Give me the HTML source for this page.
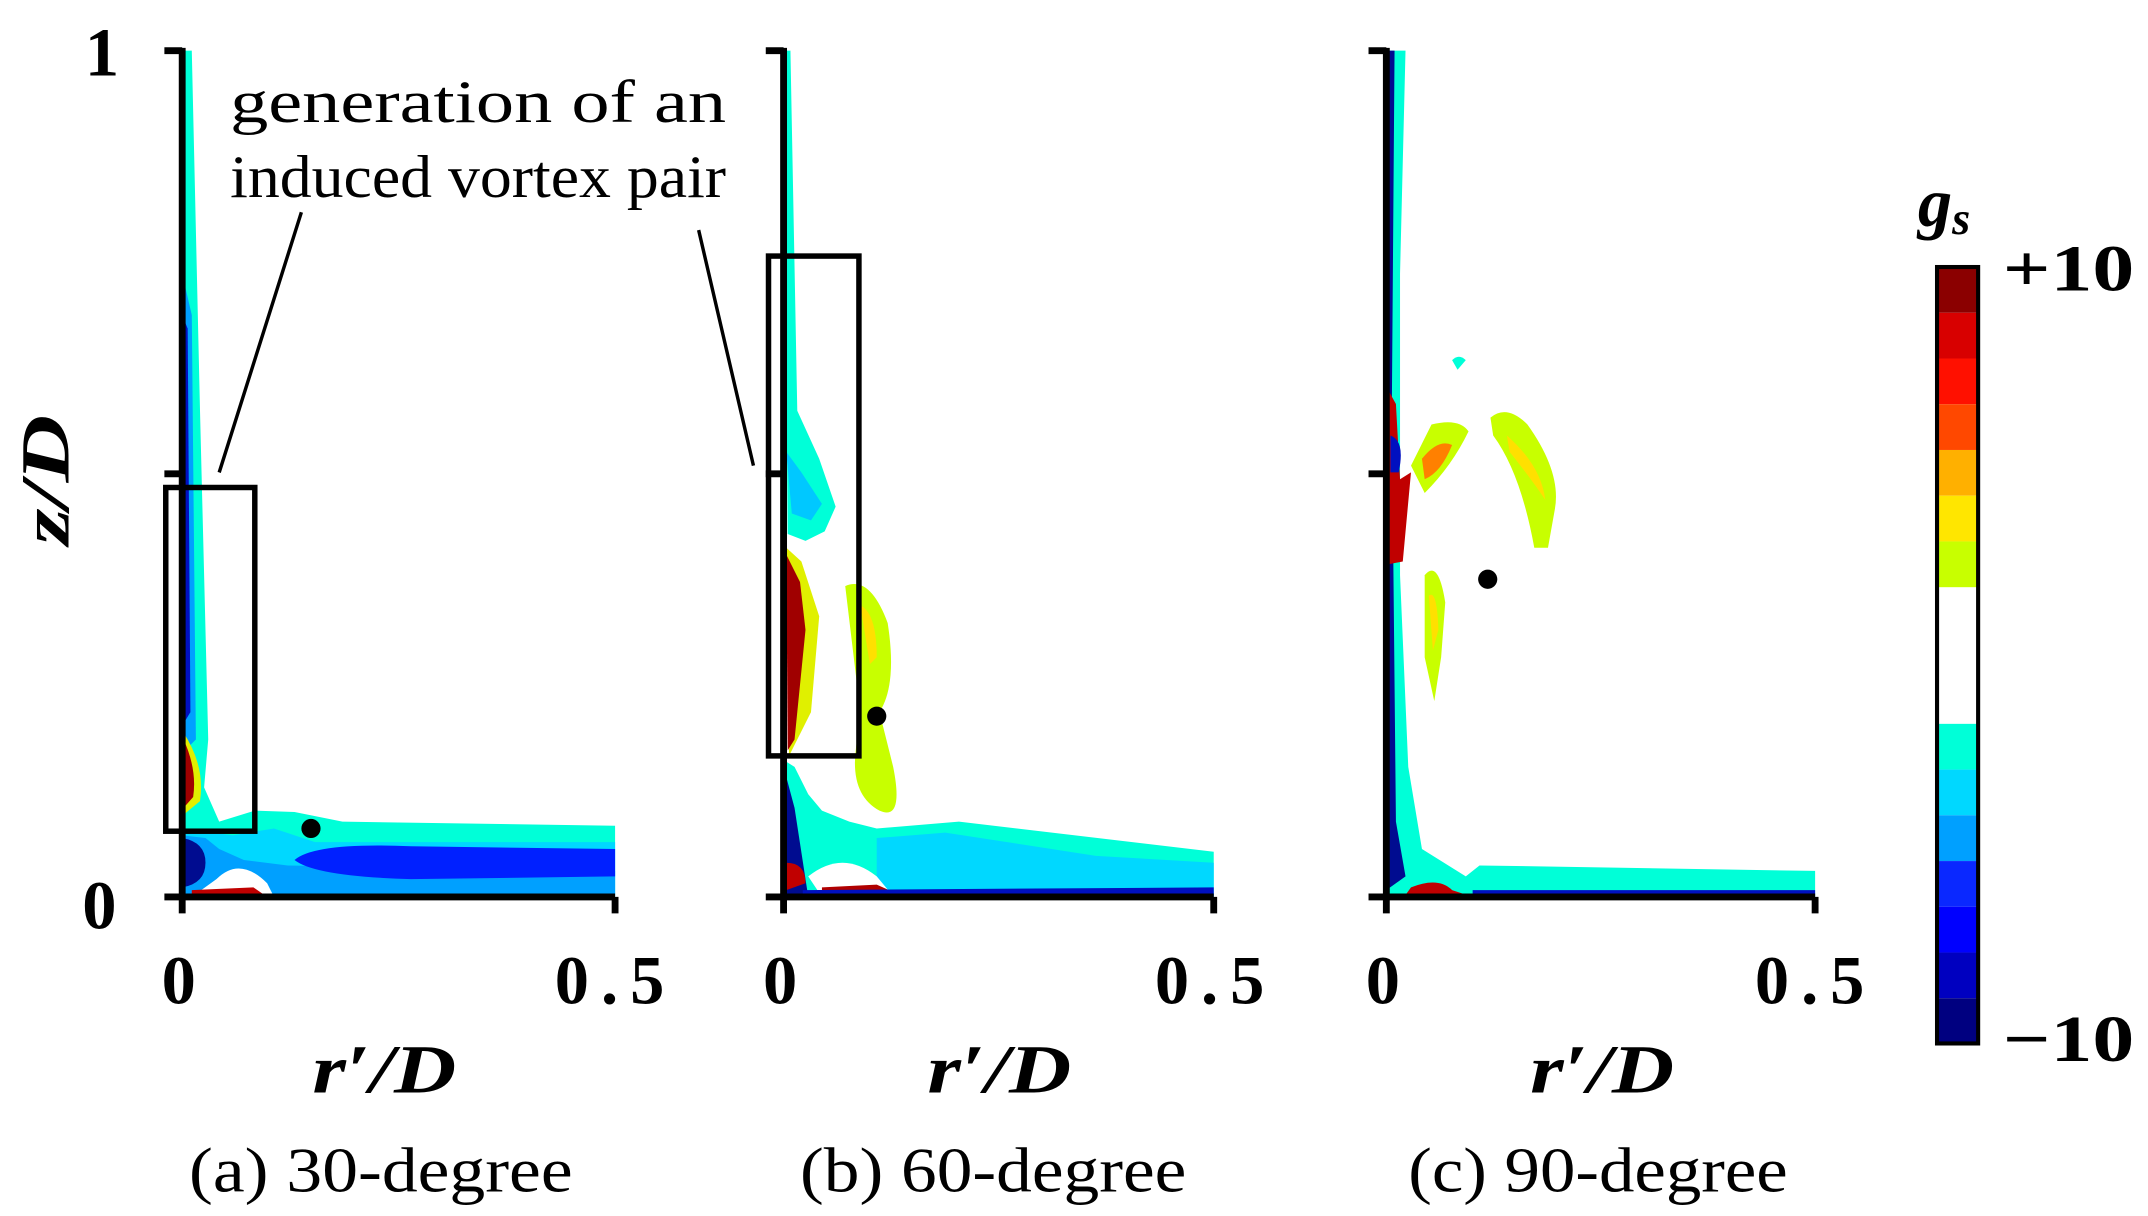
<!DOCTYPE html>
<html><head><meta charset="utf-8"><style>html,body{margin:0;padding:0;background:#fff}svg{display:block}</style></head>
<body>
<svg width="2148" height="1216" viewBox="0 0 1568 888" preserveAspectRatio="none" xmlns="http://www.w3.org/2000/svg">
<rect width="1568" height="888" fill="#fff"/>
<!-- Panel a contours -->
<g>
<path d="M133 37 L140 37 L146 300 L152 540 L149 575 L160 600 L186 592 L215 593 L250 600 L449 603 L449 655 L133 655 Z" fill="#00ffd8"/>
<path d="M133 200 L140 230 L143 540 L133 550 Z" fill="#00a0ff"/>
<path d="M133 605 L170 610 L200 605 L230 615 L449 615 L449 655 L133 655 Z" fill="#00d8ff"/>
<path d="M133 610 L150 612 L160 620 L178 628 L210 632 L449 636 L449 655 L133 655 Z" fill="#00a0ff"/>
<path d="M215 628 Q230 615 300 618 L449 620 L449 640 L300 642 Q230 640 215 628 Z" fill="#0020ff"/>
<path d="M133 612 Q150 615 150 630 Q150 645 133 648 Z" fill="#000c90"/>
<path d="M133 230 L137 240 L139 520 L133 530 Z" fill="#0010c0"/>
<path d="M158 642 Q175 625 195 645 L200 655 L140 655 Z" fill="#fff"/>
<path d="M140 650 L185 648 L195 655 L140 655 Z" fill="#c00000"/>
<path d="M134 535 Q150 560 146 585 L134 595 Z" fill="#e0f000"/>
<path d="M134 540 Q144 562 141 582 L134 590 Z" fill="#a00000"/>
</g>
<!-- Panel b contours -->
<g>
<path d="M572 37 L577 37 L582 300 L598 335 L610 370 L602 388 L588 395 L575 390 Z" fill="#00ffd8"/>
<path d="M574 330 L585 345 L600 368 L592 380 L578 375 Z" fill="#00c8ff"/>
<path d="M574 400 L585 410 L598 450 L592 520 L576 552 Z" fill="#e0f000"/>
<path d="M574 405 L584 425 L588 460 L580 540 L575 548 Z" fill="#a00000"/>
<path d="M617 428 Q635 420 648 455 Q655 500 642 520 L652 560 Q660 600 642 592 Q620 580 625 545 L628 520 Z" fill="#c8ff00"/>
<path d="M628 442 Q640 448 640 480 L635 485 Z" fill="#ffe000"/>
<path d="M572 555 L580 560 L590 580 L600 592 L620 600 L640 605 L700 600 L886 622 L886 655 L572 655 Z" fill="#00ffd8"/>
<path d="M640 612 L690 608 L800 625 L886 630 L886 655 L640 655 Z" fill="#00d8ff"/>
<path d="M572 560 L580 590 L590 655 L572 655 Z" fill="#000c90"/>
<path d="M590 640 Q615 620 640 640 L650 652 L600 655 Z" fill="#fff"/>
<path d="M600 648 L640 646 L660 655 L600 655 Z" fill="#b00000"/>
<path d="M574 630 Q588 630 588 645 L574 650 Z" fill="#c00000"/>
<path d="M586 650 L886 648 L886 655 L586 655 Z" fill="#0010c0"/>
</g>
<!-- Panel c contours -->
<g>
<path d="M1012 37 L1026 37 L1022 200 L1022 420 L1028 560 L1038 620 L1070 640 L1080 632 L1325 636 L1325 655 L1012 655 Z" fill="#00ffd8"/>
<path d="M1012 37 L1018 37 L1016 300 L1019 600 L1026 640 L1012 650 Z" fill="#000c90"/>
<path d="M1014 286 L1019 295 L1022 350 L1030 345 L1024 410 L1014 412 Z" fill="#c00000"/>
<path d="M1015 318 Q1026 322 1021 345 L1015 345 Z" fill="#0010c0"/>
<path d="M1030 340 L1045 310 Q1065 305 1072 315 Q1060 340 1040 360 Z" fill="#c8ff00"/>
<path d="M1038 335 Q1050 320 1060 325 Q1052 345 1040 350 Z" fill="#ff8000"/>
<path d="M1088 305 Q1100 295 1115 310 Q1140 345 1135 372 L1130 400 L1120 400 Q1110 345 1090 318 Z" fill="#c8ff00"/>
<path d="M1100 318 Q1125 340 1128 365 Q1118 350 1102 330 Z" fill="#ffe000"/>
<path d="M1040 420 Q1050 408 1055 440 L1052 480 L1047 512 L1040 480 Z" fill="#c8ff00"/>
<path d="M1043 435 Q1049 430 1050 460 L1046 475 Z" fill="#ffe000"/>
<path d="M1060 263 Q1065 258 1070 263 L1064 270 Z" fill="#00ffd8"/>
<path d="M1030 648 Q1050 640 1060 650 L1075 655 L1025 655 Z" fill="#c00000"/>
<path d="M1075 650 L1325 650 L1325 655 L1075 655 Z" fill="#0010c0"/>
</g>
<!-- axes -->
<g stroke="#000" stroke-width="5" fill="none">
<path d="M133 35 V667 M120 37 H133 M120 346 H133 M120 655 H449 M449 655 V667"/>
<path d="M572 35 V667 M559 37 H572 M559 346 H572 M559 655 H886 M886 655 V667"/>
<path d="M1012 35 V667 M999 37 H1012 M999 346 H1012 M999 655 H1325 M1325 655 V667"/>
<rect x="121" y="356" width="65" height="251" stroke-width="4"/>
<rect x="561" y="187" width="66" height="365" stroke-width="4"/>
<path d="M220 155 L160 345 M510 168 L550 340" stroke-width="2.5"/>
</g>
<circle cx="227" cy="605" r="7"/><circle cx="640" cy="523" r="7"/><circle cx="1086" cy="423" r="7"/>
<!-- text -->
<g font-family="'Liberation Serif', serif" fill="#000">
<text x="168" y="89" font-size="44" textLength="362" lengthAdjust="spacingAndGlyphs">generation  of  an</text>
<text x="168" y="144" font-size="44" textLength="362" lengthAdjust="spacingAndGlyphs">induced vortex pair</text>
<g font-weight="bold" font-size="50">
<text x="62" y="55">1</text><text x="60" y="678">0</text>
<text x="118" y="733">0</text><text x="405" y="733" textLength="80" lengthAdjust="spacing">0.5</text>
<text x="557" y="733">0</text><text x="843" y="733" textLength="80" lengthAdjust="spacing">0.5</text>
<text x="997" y="733">0</text><text x="1281" y="733" textLength="80" lengthAdjust="spacing">0.5</text>
</g>
<g font-weight="bold" font-style="italic" font-size="50">
<text x="228" y="798" textLength="105" lengthAdjust="spacingAndGlyphs">r′/D</text>
<text x="677" y="798" textLength="105" lengthAdjust="spacingAndGlyphs">r′/D</text>
<text x="1117" y="798" textLength="105" lengthAdjust="spacingAndGlyphs">r′/D</text>
<text transform="translate(50,398) rotate(-90)" textLength="95" lengthAdjust="spacingAndGlyphs">z/D</text>
<text x="1400" y="165">g<tspan font-size="34" dy="6">s</tspan></text>
</g>
<text x="1462" y="212" font-size="48" font-weight="bold" textLength="96" lengthAdjust="spacingAndGlyphs">+10</text>
<text x="1462" y="775" font-size="48" font-weight="bold" textLength="96" lengthAdjust="spacingAndGlyphs">−10</text>
<g font-size="46">
<text x="138" y="870" textLength="280" lengthAdjust="spacingAndGlyphs">(a) 30-degree</text>
<text x="584" y="870" textLength="282" lengthAdjust="spacingAndGlyphs">(b) 60-degree</text>
<text x="1028" y="870" textLength="277" lengthAdjust="spacingAndGlyphs">(c) 90-degree</text>
</g>
</g>
<!-- colorbar -->
<g>
<rect x="1414" y="195" width="30" height="33.4" fill="#8b0000"/>
<rect x="1414" y="228.4" width="30" height="33.4" fill="#d80000"/>
<rect x="1414" y="261.8" width="30" height="33.4" fill="#ff1000"/>
<rect x="1414" y="295.2" width="30" height="33.4" fill="#ff4800"/>
<rect x="1414" y="328.6" width="30" height="33.4" fill="#ffb000"/>
<rect x="1414" y="362" width="30" height="33.4" fill="#ffe600"/>
<rect x="1414" y="395.4" width="30" height="33.4" fill="#c8ff00"/>
<rect x="1414" y="528.6" width="30" height="33.4" fill="#00ffd8"/>
<rect x="1414" y="562" width="30" height="33.4" fill="#00d8ff"/>
<rect x="1414" y="595.4" width="30" height="33.4" fill="#00a0ff"/>
<rect x="1414" y="628.8" width="30" height="33.4" fill="#0a28ff"/>
<rect x="1414" y="662.2" width="30" height="33.4" fill="#0000ff"/>
<rect x="1414" y="695.6" width="30" height="33.4" fill="#0000c0"/>
<rect x="1414" y="729" width="30" height="33.4" fill="#000080"/>
<rect x="1414" y="195" width="30" height="567" fill="none" stroke="#000" stroke-width="3"/>
</g>
</svg>
</body></html>
